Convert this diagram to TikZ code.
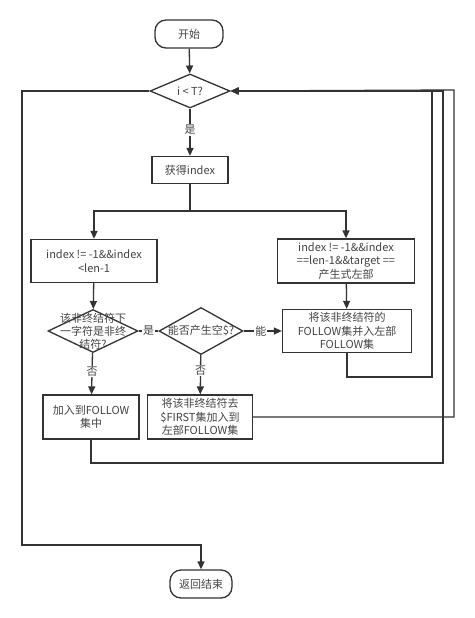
\documentclass[tikz,border=0pt]{standalone}
\usepackage{fontspec}
\setmainfont{Noto Sans CJK SC}
\usetikzlibrary{shapes.geometric,arrows.meta}
\definecolor{ln}{HTML}{333333}
\definecolor{tx}{HTML}{444444}
\begin{document}
\begin{tikzpicture}[x=1pt,y=-1pt,
  every node/.style={text=tx,font=\fontsize{11}{13.5}\selectfont},
  box/.style={draw=ln,line width=1.3pt,fill=white,align=center,inner sep=1pt},
  term/.style={box,rounded corners=11pt},
  dia/.style={draw=ln,line width=1.3pt,fill=white,diamond,inner sep=0pt},
  con/.style={draw=ln,line width=1.3pt},
  arr/.style={con,-{Triangle[length=8pt,width=7pt]}},
  lab/.style={fill=white,inner sep=1pt}]
\useasboundingbox (0,0) rectangle (474,618);
% nodes
\node[term,minimum width=68pt,minimum height=28pt] (start) at (189,34) {开始};
\node[dia,minimum width=80pt,minimum height=34pt] (d0) at (190,91) {};
\node at (d0) {i < T?};
\node[box,minimum width=76pt,minimum height=27pt] (get) at (190,170) {获得index};
\node[box,minimum width=126pt,minimum height=43pt] (lb) at (94,261) {index != -1\&\&index\\<len-1};
\node[box,minimum width=137pt,minimum height=44pt] (rb) at (346,261) {index != -1\&\&index\\==len-1\&\&target ==\\产生式左部};
\node[dia,minimum width=90pt,minimum height=43pt] (d1) at (93,331) {};
\node[dia,minimum width=84pt,minimum height=47pt] (d2) at (201,331) {};
\node[box,minimum width=129pt,minimum height=43pt] (rb2) at (347,331) {将该非终结符的\\FOLLOW集并入左部\\FOLLOW集};
\node[box,minimum width=96pt,minimum height=44pt] (f1) at (91,417) {加入到FOLLOW\\集中};
\node[box,minimum width=105pt,minimum height=44pt] (f2) at (200,417) {将该非终结符去\\\$FIRST集加入到\\左部FOLLOW集};
\node[term,minimum width=62pt,minimum height=28pt] (end) at (201,584) {返回结束};
\coordinate (split) at (190,211);
\coordinate (c1) at (432,377);
\coordinate (c2) at (443,463);
\coordinate (c3) at (454,417);
\coordinate (top) at (454,90);
\coordinate (lft) at (22,545);
% connectors
\draw[arr] (start) -- (d0);
\draw[arr] (d0) -- node[lab,pos=0.45]{是} (get);
\draw[con] (get) -- (split);
\draw[arr] (split) -| (lb);
\draw[arr] (split) -| (rb);
\draw[arr] (lb) -- (d1);
\draw[arr] (rb) -- (rb2);
\draw[con] (d1) -- node[lab]{是} (d2);
\draw[arr] (d2) -- node[lab,pos=0.45]{能} (rb2);
\draw[arr] (d1) -- node[lab,pos=0.45]{否} (f1);
\draw[arr] (d2) -- node[lab,pos=0.4]{否} (f2);
\draw[arr] (rb2.south) |- (c1) |- (d0.east);
\draw[arr] (f1.south) |- (c2) |- (d0.east);
\draw[arr] (f2.east) -| (top) -- (d0.east);
\draw[arr] (d0.west) -| (lft) -| (end.north);
% diamond texts on top
\node[align=center,font=\fontsize{11}{13}\selectfont] at (93,331) {该非终结符下\\一字符是非终\\结符?};
\node at (d2) {能否产生空\$?};
\end{tikzpicture}
\end{document}
